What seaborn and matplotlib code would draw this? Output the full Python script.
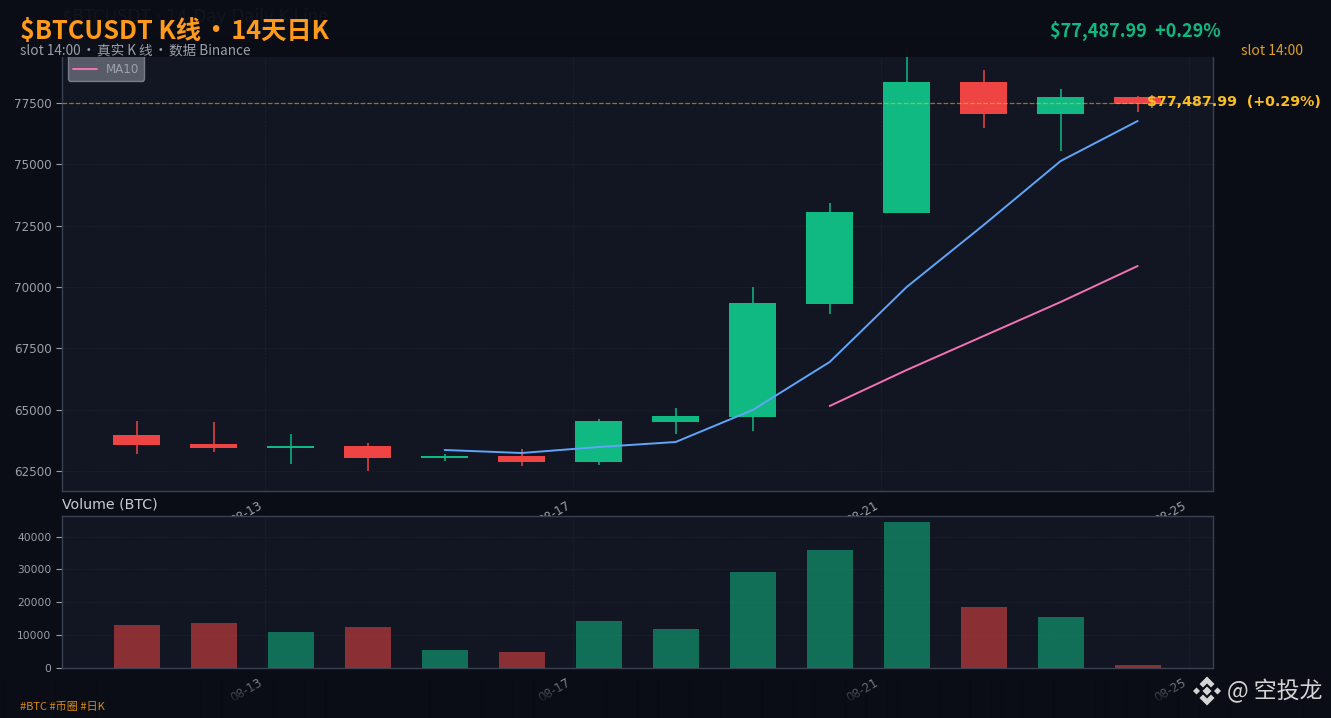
import matplotlib
matplotlib.use("Agg")
import matplotlib.dates as mdates
import matplotlib.pyplot as plt
from matplotlib.patches import Polygon, Rectangle
import numpy as np
import pandas as pd
import seaborn as sns

# candle data
days = ["08-11", "08-12", "08-13", "08-14", "08-15", "08-16", "08-17",
        "08-18", "08-19", "08-20", "08-21", "08-22", "08-23", "08-24"]
body_top = [63967, 63600, 63519, 63519, 63111, 63111, 64538, 64742, 69348, 73057, 78356, 78356, 77745, 77745]
body_bot = [63560, 63438, 63438, 63030, 63030, 62867, 62867, 64497, 64701, 69307, 73016, 77052, 77052, 77459]
high = [64538, 64497, 64008, 63642, 63193, 63397, 64620, 65068, 70000, 73424, 79660, 78845, 78071, 77785]
low = [63193, 63275, 62786, 62500, 62908, 62704, 62745, 64008, 64131, 68900, 73016, 76481, 75544, 77133]
is_up = [False, False, True, False, True, False, True, True, True, True, True, False, True, False]
volume = [13130, 13740, 11000, 12520, 5500, 4885, 14350, 11900, 29310, 36030, 44580, 18630, 15570, 900]
ma5 = [None, None, None, None, 63356, 63234, 63478, 63682, 64987, 66943, 70000, 72527, 75136, 76766]
ma10 = [None, None, None, None, None, None, None, None, None, 65150, 66617, 68003, 69389, 70856]
last_price = 77487.99

price_ticks = [62500, 65000, 67500, 70000, 72500, 75000, 77500, 80000]
volume_ticks = [0, 10000, 20000, 30000, 40000]
date_ticks = ["08-13", "08-17", "08-21", "08-25"]

BG = "#0a0d16"
PANEL = "#111622"
GREEN = "#10b981"
RED = "#ef4444"
ORANGE = "#ff9a1a"
GOLD = "#fbbf24"
SPINE = "#3a4152"
TICK = "#9aa0ac"
CJK = ["Noto Sans CJK SC", "DejaVu Sans"]
W, H = 1331, 718

sns.set_theme(style="dark", rc={"figure.facecolor": BG, "axes.facecolor": PANEL,
                                "axes.edgecolor": SPINE, "savefig.facecolor": BG})

to_num = lambda s, hour=0: mdates.date2num(pd.Timestamp("2025-" + s) + pd.Timedelta(hours=hour))
df = pd.DataFrame({"x": [to_num(d, 8) for d in days], "top": body_top, "bot": body_bot,
                   "high": high, "low": low, "up": is_up, "volume": volume,
                   "ma5": pd.to_numeric(pd.Series(ma5)), "ma10": pd.to_numeric(pd.Series(ma10))})
df["color"] = np.where(df["up"], GREEN, RED)


def px_axes(left, top, right, bottom):
    return [left / W, 1 - bottom / H, (right - left) / W, (bottom - top) / H]


fig = plt.figure(figsize=(W / 100, H / 100), dpi=100)
ax = fig.add_axes(px_axes(62, 33, 1213, 491))
ax_vol = fig.add_axes(px_axes(62, 515.5, 1213, 668), sharex=ax)

# candles
ax.vlines(df["x"], df["low"], df["high"], colors=df["color"], linewidth=1.1, zorder=3)
ax.bar(df["x"], df["top"] - df["bot"], bottom=df["bot"], width=0.61, color=df["color"],
       edgecolor="none", linewidth=0, zorder=4)

sns.lineplot(data=df, x="x", y="ma5", ax=ax, color="#60a5fa", linewidth=1.4, label="MA5", zorder=5)
sns.lineplot(data=df, x="x", y="ma10", ax=ax, color="#f472b6", linewidth=1.4, label="MA10", zorder=5)

ax.axhline(last_price, color=GOLD, linewidth=0.9, linestyle="--", alpha=0.55, zorder=6)
ax.text(df["x"].iloc[-1] + 0.12, last_price + 60, "$77,487.99  (+0.29%)", color=GOLD, fontsize=10.2,
        fontweight="bold", va="center", ha="left", zorder=7, clip_on=False)

ax.set_ylim(61685, 80353)
ax.set_yticks(price_ticks)
ax.set_ylabel("")
ax.set_xlabel("")
ax.set_title("$BTCUSDT · 14-Day Daily K-Line", loc="left", color="#c8ccd4", fontsize=12, pad=8)
ax.legend(loc="upper left", facecolor="#6b6f7a", edgecolor="#8a8e98", labelcolor=TICK,
          fontsize=8.6, framealpha=0.8).set_zorder(8)

# volume
sns.barplot(data=df, x="x", y="volume", hue="up", palette={True: GREEN, False: RED}, native_scale=True,
            dodge=False, width=0.6, alpha=0.55, saturation=1, legend=False, ax=ax_vol, zorder=3,
            edgecolor="none", linewidth=0)
ax_vol.set_ylim(0, 46412)
ax_vol.set_yticks(volume_ticks)
ax_vol.set_ylabel("")
ax_vol.set_xlabel("")
ax_vol.set_title("Volume (BTC)", loc="left", color="#c8ccd4", fontsize=10.2, pad=5)

tick_pos = [to_num(d) for d in date_ticks]
for a, size in ((ax, 8.6), (ax_vol, 7.7)):
    a.set_xlim(to_num("08-13") - 203 / 77, to_num("08-13") + 948 / 77)
    a.set_xticks(tick_pos)
    a.xaxis.set_major_formatter(mdates.DateFormatter("%m-%d"))
    a.tick_params(axis="y", colors=TICK, labelsize=size, length=4, width=0.8, left=True)
    a.tick_params(axis="x", colors=TICK, labelsize=8.6, length=0, pad=6, labelbottom=True)
    plt.setp(a.get_xticklabels(), rotation=30, ha="right")
    a.grid(True, color="#2a3040", linestyle="--", linewidth=0.5, alpha=0.45)
    a.set_axisbelow(True)
    for s in a.spines.values():
        s.set_color(SPINE)
        s.set_linewidth(1)

# header band hides the original title
fig.add_artist(Rectangle((0, 1 - 57 / H), 1, 57 / H, transform=fig.transFigure,
                         facecolor=BG, alpha=0.96, edgecolor="none", zorder=10))

# footer fade
ax_fade = fig.add_axes(px_axes(0, 676, W, 718), zorder=11)
fade = np.zeros((42, 2, 4))
fade[..., :3] = matplotlib.colors.to_rgb(BG)
fade[..., 3] = np.clip(np.linspace(0, 1.5, 42), 0, 0.92)[:, None]
ax_fade.imshow(fade, aspect="auto", interpolation="bilinear")
ax_fade.axis("off")


def fig_text(px, py, s, **kw):
    fig.text(px / W, 1 - py / H, s, family=CJK, va="center", zorder=12, **kw)


# hair spaces round the wide CJK middle dot
fig_text(20, 32, "$BTCUSDT K线\u200a·\u200a14天日K", color=ORANGE, fontsize=18.2, fontweight="bold")
fig_text(20, 51, "slot 14:00\u200a·\u200a真实 K 线\u200a·\u200a数据 Binance", color=TICK, fontsize=9.8)
fig_text(1221, 30.5, "$77,487.99  +0.29%", color=GREEN, fontsize=13, fontweight="bold", ha="right")
fig_text(1303, 51, "slot 14:00", color="#e0a020", fontsize=10, ha="right")
fig_text(20, 706.5, "#BTC #币圈 #日K", color="#d98a10", fontsize=8)
fig_text(1227, 691.5, "@ 空投龙", color="#d4d4d4", fontsize=16.5)

# binance style logo of the watermark
shapes = [[(1207, 676.5), (1214.5, 684), (1211, 687.5), (1207, 683.5), (1203, 687.5), (1199.5, 684)],
          [(1207, 705.5), (1214.5, 698), (1211, 694.5), (1207, 698.5), (1203, 694.5), (1199.5, 698)],
          [(1193, 691), (1196.5, 687.5), (1200, 691), (1196.5, 694.5)],
          [(1214, 691), (1217.5, 687.5), (1221, 691), (1217.5, 694.5)],
          [(1207, 686.5), (1211.5, 691), (1207, 695.5), (1202.5, 691)]]
for pts in shapes:
    fig.add_artist(Polygon([(x / W, 1 - y / H) for x, y in pts], transform=fig.transFigure,
                           facecolor="#d4d4d4", edgecolor="none", zorder=12))

fig.savefig("out.png", dpi=100)
